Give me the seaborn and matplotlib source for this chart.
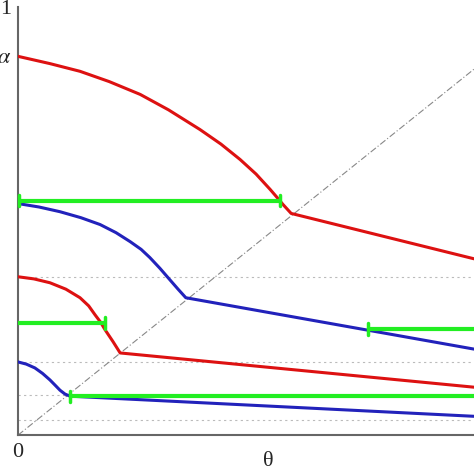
import numpy as np
import matplotlib
matplotlib.use("Agg")
import matplotlib.pyplot as plt
import seaborn as sns

# curve data in axis units (theta on x, value on y)
red1_x = [0, 0.07, 0.136, 0.20, 0.268, 0.33, 0.399, 0.445, 0.487, 0.522, 0.553, 0.570, 0.581, 0.599, 1.0]
red1_y = [0.885, 0.868, 0.850, 0.826, 0.796, 0.760, 0.714, 0.680, 0.644, 0.610, 0.574, 0.553, 0.539, 0.518, 0.412]
blue1_x = [0, 0.046, 0.092, 0.138, 0.180, 0.215, 0.246, 0.270, 0.289, 0.311, 0.333, 0.351, 0.368, 1.0]
blue1_y = [0.541, 0.533, 0.522, 0.508, 0.492, 0.473, 0.452, 0.434, 0.415, 0.390, 0.363, 0.341, 0.321, 0.201]
red2_x = [0, 0.035, 0.070, 0.105, 0.136, 0.155, 0.169, 0.181, 0.191, 0.208, 0.224, 1.0]
red2_y = [0.370, 0.365, 0.356, 0.341, 0.321, 0.302, 0.281, 0.264, 0.246, 0.219, 0.192, 0.112]
blue2_x = [0, 0.018, 0.037, 0.054, 0.070, 0.082, 0.092, 0.103, 0.114, 1.0]
blue2_y = [0.171, 0.166, 0.157, 0.144, 0.129, 0.116, 0.105, 0.096, 0.091, 0.044]

# green arrows: (x_start, x_end, y, tick at)
green_segs = [(0.0, 0.575, 0.548, 0.575), (0.768, 1.0, 0.248, 0.768),
              (0.0, 0.191, 0.262, 0.191), (0.114, 1.0, 0.091, 0.114)]
dotted_levels = [0.370, 0.171, 0.094, 0.035]
diag_slope = 0.855

sns.set_style("white")
plt.rcParams['font.family'] = 'serif'
plt.rcParams['font.serif'] = ['Liberation Serif', 'DejaVu Serif']
plt.rcParams['mathtext.fontset'] = 'stix'

fig = plt.figure(figsize=(4.74, 4.74), dpi=100)
ax = fig.add_axes([0.038, 0.082, 0.962, 0.903])

for lv in dotted_levels:
    ax.axhline(lv, color="#bbbbbb", ls=(0, (2, 3)), lw=0.8, zorder=1)
xs = np.array([0, 1.0])
ax.plot(xs, diag_slope * xs, color="#888888", ls=(0, (6, 2, 1, 2)), lw=0.8, zorder=1)

for x, y, c in [(red1_x, red1_y, "#dd1111"), (blue1_x, blue1_y, "#2222bb"),
                (red2_x, red2_y, "#dd1111"), (blue2_x, blue2_y, "#2222bb")]:
    sns.lineplot(x=x, y=y, color=c, lw=2.2, ax=ax, sort=False, estimator=None, zorder=3)

for x0, x1, y, tk in green_segs:
    ax.plot([x0, x1], [y, y], color="#22ee22", lw=3, zorder=4, solid_capstyle="butt")
    ax.plot([tk, tk], [y - 0.013, y + 0.013], color="#22ee22", lw=2.5, zorder=4)
ax.plot([0.002, 0.002], [0.535, 0.561], color="#22ee22", lw=2.5, zorder=4, clip_on=False)

ax.set_xlim(0, 1)
ax.set_ylim(0, 1.0)
ax.set_xticks([0])
ax.set_xticklabels(["0"], fontsize=16)
ax.set_yticks([0.885, 1.0])
ax.set_yticklabels([r"$\alpha$", "1"], fontsize=16)
ax.tick_params(axis="y", length=5, color="#666666", pad=0)
ax.tick_params(axis="x", length=0, pad=6)
ax.set_xlabel("θ", fontsize=16, labelpad=2)
ax.xaxis.set_label_coords(0.548, -0.04)
for s in ["top", "right"]:
    ax.spines[s].set_visible(False)
for s in ["left", "bottom"]:
    ax.spines[s].set_color("#666666")
    ax.spines[s].set_linewidth(1.5)

fig.savefig("out.png", dpi=100)
